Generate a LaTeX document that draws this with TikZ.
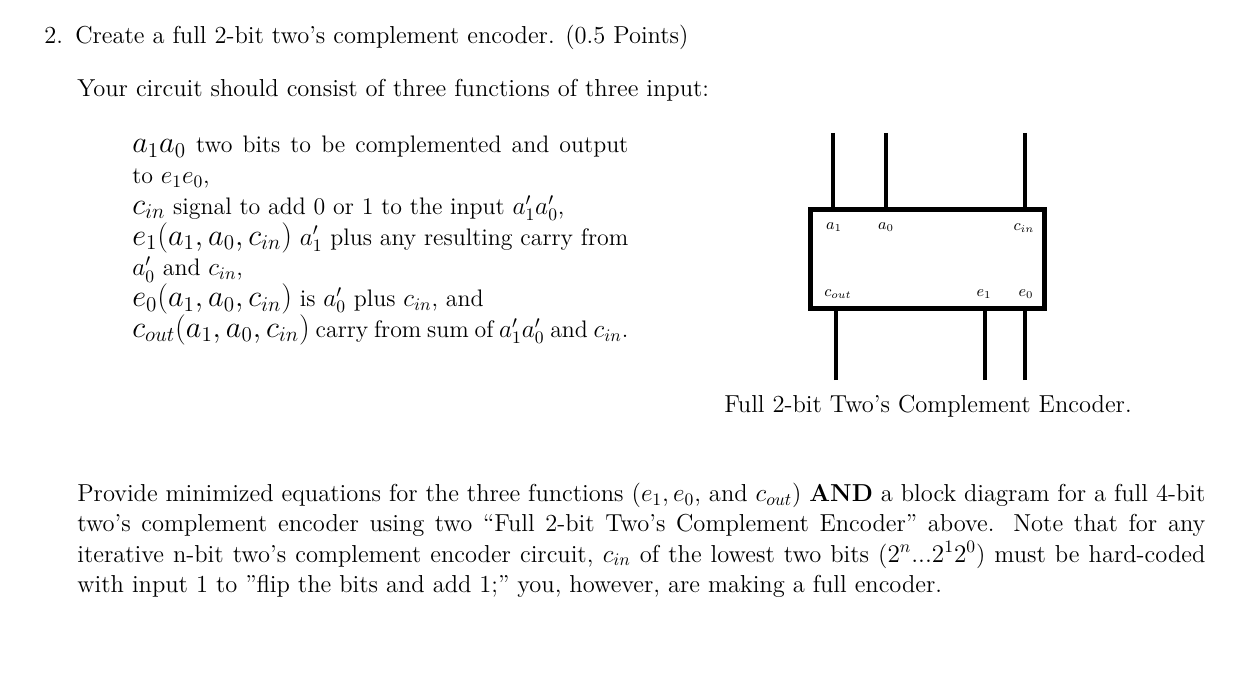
\documentclass[tikz,border=0pt]{standalone}
\begin{document}
\begin{tikzpicture}[x=0.02cm,y=-0.02cm,
  txt/.style={anchor=north west,inner sep=0pt,font=\fontsize{13.95}{17.2}\selectfont,align=justify},
  wire/.style={line width=2.6pt},
  pin/.style={font=\small,inner sep=0pt}]
\useasboundingbox (0,0) rectangle (1250,675);
\node[txt,anchor=base west] (q) at (44,44) {2.\hspace{0.5em}Create a full 2-bit two's complement encoder. (0.5 Points)};
\node[txt,anchor=base west] (i) at (77,97) {Your circuit should consist of three functions of three input:};
\node[txt,text width=496*0.02cm,anchor=north west,font=\fontsize{13.6}{17.5}\selectfont] (list) at (132,136) {%
{\LARGE$a_1a_0$} two bits to be complemented and out\-put to $e_1e_0$,\\
{\LARGE$c_{in}$} signal to add 0 or 1 to the input $a_1'a_0'$,\\
{\LARGE$e_1\Bigl(a_1,a_0,c_{in}\Bigr)$} $a_1'$ plus any resulting carry from $a_0'$ and $c_{in}$,\\
{\LARGE$e_0\Bigl(a_1,a_0,c_{in}\Bigr)$} is $a_0'$ plus $c_{in}$, and\\
{\LARGE$c_{out}\Bigl(a_1,a_0,c_{in}\Bigr)$} carry from sum of $a_1'a_0'$ and $c_{in}$.};
\node[draw,wire,minimum width=239*0.02cm-2.6pt,minimum height=104*0.02cm-2.6pt,inner sep=0pt] (blk) at (927.5,259) {};
\coordinate (t1) at (833,133); \coordinate (t2) at (886,133); \coordinate (t3) at (1025,133);
\coordinate (b1) at (836,380); \coordinate (b2) at (985,380); \coordinate (b3) at (1025,380);
\draw[wire] (t1) -- (t1 |- blk.north);
\draw[wire] (t2) -- (t2 |- blk.north);
\draw[wire] (t3) -- (t3 |- blk.north);
\draw[wire] (b1) -- (b1 |- blk.south);
\draw[wire] (b2) -- (b2 |- blk.south);
\draw[wire] (b3) -- (b3 |- blk.south);
\node[pin] (la1) at (834,227) {$a_1$};
\node[pin] (la0) at (886,227) {$a_0$};
\node[pin] (lci) at (1024,228) {$c_{in}$};
\node[pin] (lco) at (838,294) {$c_{out}$};
\node[pin] (le1) at (984,294) {$e_1$};
\node[pin] (le0) at (1026,294) {$e_0$};
\node[txt,anchor=base] (cap) at (928,412) {Full 2-bit Two's Complement Encoder.};
\node[txt,text width=1128*0.02cm] (p) at (77,483) {Provide minimized equations for the three functions ($e_1,e_0$, and $c_{out}$) \textbf{AND} a block diagram for a full 4-bit two's complement encoder using two ``Full 2-bit Two's Complement Encoder'' above. Note that for any iterative n-bit two's complement encoder circuit, $c_{in}$ of the lowest two bits ($2^n...2^12^0$) must be hard-coded with input 1 to "flip the bits and add 1;'' you, however, are making a full encoder.};
\end{tikzpicture}
\end{document}
